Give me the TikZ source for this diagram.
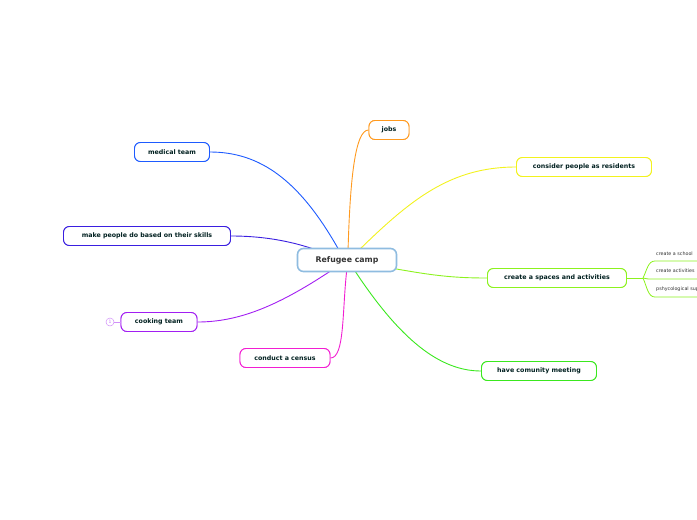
\documentclass[tikz,border=0pt]{standalone}
\usepackage{fontspec}
\setmainfont{DejaVu Sans}
\begin{document}
\begin{tikzpicture}[x=1pt,y=-1pt,
  topic/.style={draw=#1,line width=0.9pt,rounded corners=6pt,fill=white,minimum height=19pt,inner xsep=10pt,font=\bfseries\fontsize{6.3}{7}\selectfont,text=black!75!teal},
  con/.style={draw=#1,line width=0.9pt},
  sub/.style={font=\fontsize{4.8}{5}\selectfont,text=black!80,anchor=west,inner sep=1pt}]
\useasboundingbox (0,0) rectangle (697,520);
\definecolor{cBlue}{HTML}{1E5BFF}
\definecolor{cOrange}{HTML}{FF9A1F}
\definecolor{cYellow}{HTML}{F2F21E}
\definecolor{cIndigo}{HTML}{3A1FE0}
\definecolor{cLime}{HTML}{8CF21E}
\definecolor{cPurple}{HTML}{A21EF2}
\definecolor{cMag}{HTML}{F21ED2}
\definecolor{cGreen}{HTML}{3AE81E}
\definecolor{cCenter}{HTML}{8FBCE0}
\node[topic=cBlue,minimum width=75pt] (med) at (172,152) {medical team};
\node[topic=cOrange,minimum width=40pt] (jobs) at (389,130) {jobs};
\node[topic=cYellow,minimum width=135pt] (res) at (584,167) {consider people as residents};
\node[topic=cIndigo,minimum width=167pt] (mk) at (147,236) {make people do based on their skills};
\node[topic=cLime,minimum width=139pt] (sp) at (557,278) {create a spaces and activities};
\node[topic=cPurple,minimum width=76pt] (cook) at (159,322) {cooking team};
\node[topic=cMag,minimum width=90pt] (cen) at (285,358) {conduct a census};
\node[topic=cGreen,minimum width=115pt] (meet) at (539,371) {have comunity meeting};
\draw[con=cBlue] (340,252) .. controls (300,180) and (260,152) .. (med.east);
\draw[con=cOrange] (348,252) .. controls (350,180) and (355,130) .. (jobs.west);
\draw[con=cYellow] (357,252) .. controls (410,200) and (450,167) .. (res.west);
\draw[con=cIndigo] (322,252) .. controls (290,240) and (260,236) .. (mk.east);
\draw[con=cLime] (385,267) .. controls (430,275) and (450,278) .. (sp.west);
\draw[con=cPurple] (335,268) .. controls (280,305) and (240,322) .. (cook.east);
\draw[con=cMag] (347,268) .. controls (342,310) and (345,358) .. (cen.east);
\draw[con=cGreen] (353,268) .. controls (400,340) and (440,371) .. (meet.west);
\node[topic=cCenter,line width=1.6pt,minimum width=99pt,minimum height=23pt,font=\bfseries\fontsize{7.8}{9}\selectfont,text=black!80] (c) at (347,260) {Refugee camp};
\node[topic=cBlue,minimum width=75pt] at (172,152) {medical team};
\node[topic=cOrange,minimum width=40pt] at (389,130) {jobs};
\node[topic=cYellow,minimum width=135pt] at (584,167) {consider people as residents};
\node[topic=cIndigo,minimum width=167pt] at (147,236) {make people do based on their skills};
\node[topic=cLime,minimum width=139pt] at (557,278) {create a spaces and activities};
\node[topic=cPurple,minimum width=76pt] at (159,322) {cooking team};
\node[topic=cMag,minimum width=90pt] at (285,358) {conduct a census};
\node[topic=cGreen,minimum width=115pt] at (539,371) {have comunity meeting};
\node[circle,draw=cPurple!50,line width=0.5pt,inner sep=0pt,minimum size=8pt,font=\fontsize{4.5}{5}\selectfont,text=cPurple!60] (mk1) at (110,322) {1};
\draw[cPurple!50,line width=0.6pt] (mk1.east) -- (cook.west);
\coordinate (b) at (643,278);
\node[sub] (s1) at (655,254) {create a school};
\node[sub] (s2) at (655,271) {create activities};
\node[sub] (s3) at (655,289) {pshycological support};
\coordinate (e1) at (697,261);
\coordinate (e2) at (697,279);
\coordinate (e3) at (697,297);
\draw[con=cLime,line width=0.8pt] (sp.east) -- (b);
\draw[con=cLime,line width=0.8pt] (b) .. controls (647,270) and (648,261) .. (655,261) -- (e1);
\draw[con=cLime,line width=0.8pt] (b) .. controls (647,279) .. (655,279) -- (e2);
\draw[con=cLime,line width=0.8pt] (b) .. controls (647,287) and (648,297) .. (655,297) -- (e3);
\end{tikzpicture}
\end{document}
